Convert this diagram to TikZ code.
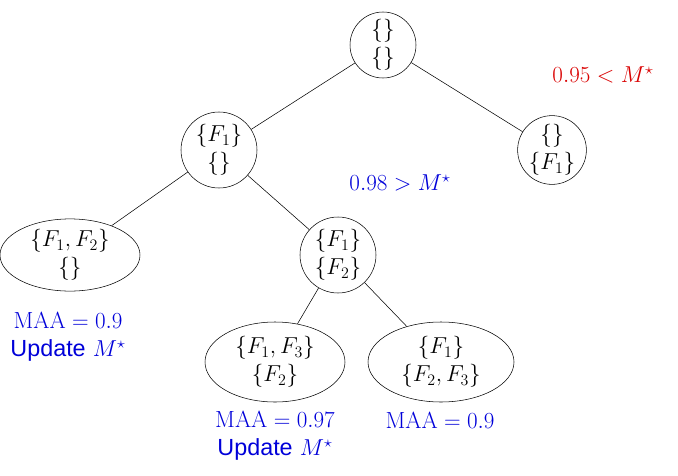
\documentclass[tikz,border=0pt]{standalone}
\usepackage{fontspec}
\newfontfamily\sans{Liberation Sans}
\usetikzlibrary{shapes.geometric}
\begin{document}
\begin{tikzpicture}[x=0.75pt,y=-0.75pt,
  every node/.style={font=\fontsize{17.5}{21}\selectfont},
  c/.style={draw,circle,inner sep=0pt,minimum size=#1*0.75pt,align=center},
  e/.style={draw,ellipse,inner sep=0pt,minimum width=#1*0.75pt,minimum height=70*0.75pt,align=center},
  lb/.style={text=blue!85!black,align=center},
  lr/.style={text=red!85!black}]
\useasboundingbox (0,0) rectangle (678,475);
\node[c=66] (r) at (383,45) {$\{\}$\\$\{\}$};
\node[c=76] (a) at (219,150) {$\{F_1\}$\\$\{\}$};
\node[c=68] (b) at (552,150) {$\{\}$\\$\{F_1\}$};
\node[e=140] (c) at (70,255) {$\{F_1,F_2\}$\\$\{\}$};
\node[c=76] (d) at (338,255) {$\{F_1\}$\\$\{F_2\}$};
\node[e=140,minimum height=80*0.75pt] (f) at (275,362) {$\{F_1,F_3\}$\\$\{F_2\}$};
\node[e=146,minimum height=80*0.75pt] (g) at (441,362) {$\{F_1\}$\\$\{F_2,F_3\}$};
\draw (r)--(a); \draw (r)--(b); \draw (a)--(c); \draw (a)--(d); \draw (d)--(f); \draw (d)--(g);
\node[lr] (t1) at (603,75) {$0.95<M^\star$};
\node[lb] (t2) at (400,183) {$0.98>M^\star$};
\node[lb] (t3) at (68,337) {$\mathrm{MAA}=0.9$\\{\sans Update} $M^\star$};
\node[lb] (t4) at (275,436) {$\mathrm{MAA}=0.97$\\{\sans Update} $M^\star$};
\node[lb] (t5) at (440,420) {$\mathrm{MAA}=0.9$};
\end{tikzpicture}
\end{document}
